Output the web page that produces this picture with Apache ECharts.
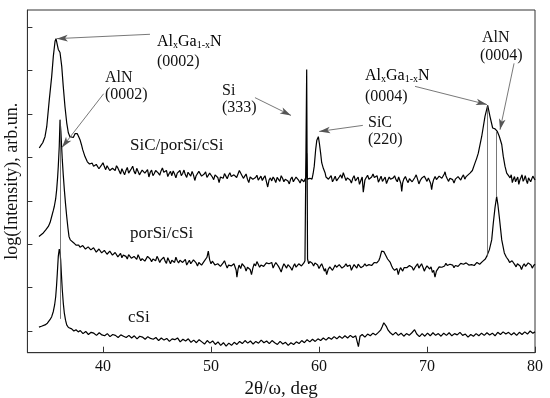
<!DOCTYPE html>
<html><head><meta charset="utf-8">
<script src="https://cdn.jsdelivr.net/npm/echarts@6/dist/echarts.min.js"></script>
<style>html,body{margin:0;padding:0;background:#fff}#c{width:550px;height:398px}</style>
</head><body><div id="c"></div>
<script>
// 2theta (deg), log intensity (arb. units, tick units)
const topCurve = [[34.10,4.22],[34.25,4.28],[34.42,4.34],[34.63,4.48],[34.79,4.71],[35.03,5.34],[35.25,5.87],[35.40,6.33],[35.56,6.68],[35.65,6.74],[35.75,6.62],[35.86,6.49],[35.95,6.46],[36.02,6.42],[36.18,6.10],[36.32,5.64],[36.48,5.17],[36.64,4.80],[36.79,4.57],[36.94,4.48],[37.10,4.44],[37.25,4.46],[37.41,4.55],[37.55,4.52],[37.62,4.55],[37.75,4.48],[37.87,4.41],[38.00,4.30],[38.12,4.18],[38.33,4.02],[38.55,3.90],[38.75,3.85],
[39.00,3.87],[39.125,3.80],[39.25,3.77],[39.375,3.84],[39.50,3.88],[39.625,3.74],[39.75,3.78],[39.875,3.83],[40.00,3.88],[40.125,3.79],[40.25,3.72],[40.375,3.81],[40.50,3.78],[40.625,3.70],[40.75,3.66],[40.875,3.75],[41.00,3.79],[41.125,3.70],[41.25,3.81],[41.375,3.76],[41.50,3.69],[41.625,3.62],[41.75,3.74],[41.875,3.78],[42.00,3.60],[42.125,3.70],[42.25,3.77],[42.375,3.64],[42.50,3.69],[42.625,3.74],[42.75,3.80],[42.875,3.68],[43.00,3.62],[43.125,3.75],[43.25,3.72],[43.375,3.60],[43.50,3.63],[43.625,3.71],[43.75,3.75],[43.875,3.64],[44.00,3.67],[44.125,3.72],[44.25,3.55],[44.375,3.66],[44.50,3.71],[44.625,3.58],[44.75,3.63],[44.875,3.70],[45.00,3.74],[45.125,3.64],[45.25,3.59],[45.375,3.69],[45.50,3.76],[45.625,3.66],[45.75,3.62],[45.875,3.70],[46.00,3.56],[46.125,3.63],[46.25,3.68],[46.375,3.58],[46.50,3.69],[46.625,3.62],[46.75,3.53],[46.875,3.64],[47.00,3.65],[47.125,3.70],[47.25,3.58],[47.375,3.63],[47.50,3.71],[47.625,3.60],[47.75,3.54],[47.875,3.66],[48.00,3.64],[48.125,3.57],[48.25,3.68],[48.375,3.60],[48.50,3.47],[48.625,3.58],[48.75,3.61],[48.875,3.68],[49.00,3.65],[49.125,3.57],[49.25,3.53],[49.375,3.62],[49.50,3.67],[49.625,3.54],[49.75,3.56],[49.875,3.64],[50.00,3.62],[50.125,3.55],[50.25,3.49],[50.375,3.60],[50.50,3.63],[50.625,3.54],[50.75,3.42],[50.875,3.55],[51.00,3.59],[51.125,3.52],[51.25,3.63],[51.375,3.57],[51.50,3.51],[51.625,3.59],[51.75,3.65],[51.875,3.56],[52.00,3.52],[52.125,3.60],[52.25,3.57],[52.375,3.54],[52.50,3.62],[52.625,3.70],[52.75,3.68],[52.875,3.58],[53.00,3.52],[53.125,3.57],[53.25,3.62],[53.375,3.50],[53.50,3.42],[53.625,3.55],[53.75,3.56],[53.875,3.50],[54.00,3.46],[54.125,3.54],[54.25,3.59],[54.375,3.48],[54.50,3.52],[54.625,3.57],[54.75,3.47],[54.875,3.53],[55.00,3.58],[55.125,3.45],[55.25,3.32],[55.375,3.48],[55.50,3.53],[55.625,3.46],[55.75,3.55],[55.875,3.50],[56.00,3.42],[56.125,3.54],[56.25,3.51],[56.375,3.45],[56.50,3.58],[56.625,3.52],[56.75,3.44],[56.875,3.50],[57.00,3.53],[57.125,3.46],[57.25,3.39],[57.375,3.50],[57.50,3.55],[57.625,3.44],[57.75,3.47],[57.875,3.55],[58.00,3.54],[58.125,3.47],[58.25,3.41],[58.375,3.50],[58.50,3.52],[58.60,3.44],[58.70,3.48],[58.80,3.55],[58.86,4.10],[58.92,3.50],
[59.05,3.46],[59.15,3.52],[59.25,3.55],[59.35,3.50],[59.45,3.62],[59.56,3.80],[59.69,4.18],[59.80,4.40],[59.94,4.48],[60.05,4.30],[60.15,4.10],[60.25,3.88],[60.40,3.75],[60.56,3.65],[60.65,3.55],[60.75,3.58],[60.875,3.50],
[61.00,3.52],[61.125,3.58],[61.25,3.44],[61.375,3.50],[61.50,3.57],[61.625,3.46],[61.75,3.49],[61.875,3.55],[62.00,3.60],[62.125,3.52],[62.25,3.65],[62.375,3.56],[62.50,3.47],[62.625,3.53],[62.75,3.55],[62.875,3.48],[63.00,3.41],[63.125,3.52],[63.25,3.58],[63.375,3.46],[63.50,3.50],[63.625,3.55],[63.75,3.38],[63.875,3.47],[64.00,3.55],[64.10,3.20],[64.25,3.48],[64.375,3.54],[64.50,3.59],[64.625,3.50],[64.75,3.46],[64.875,3.55],[65.00,3.62],[65.125,3.54],[65.25,3.51],[65.375,3.58],[65.50,3.43],[65.625,3.50],[65.75,3.57],[65.875,3.45],[66.00,3.49],[66.125,3.55],[66.25,3.40],[66.375,3.48],[66.50,3.55],[66.625,3.50],[66.75,3.47],[66.875,3.53],[67.00,3.58],[67.125,3.49],[67.25,3.44],[67.375,3.55],[67.50,3.52],[67.58,3.40],[67.66,3.22],[67.75,3.42],[67.85,3.50],[68.00,3.56],[68.125,3.48],[68.25,3.42],[68.375,3.51],[68.50,3.53],[68.625,3.44],[68.75,3.46],[68.875,3.54],[69.00,3.60],[69.125,3.50],[69.25,3.39],[69.375,3.47],[69.50,3.52],[69.625,3.48],[69.75,3.57],[69.875,3.51],[70.00,3.45],[70.125,3.53],[70.25,3.54],[70.34,3.40],[70.43,3.26],[70.52,3.40],[70.60,3.48],[70.75,3.56],[70.875,3.49],[71.00,3.50],[71.125,3.57],[71.25,3.61],[71.375,3.52],[71.50,3.55],[71.60,3.62],[71.67,3.67],[71.75,3.58],[71.85,3.52],[72.00,3.45],[72.125,3.52],[72.25,3.56],[72.375,3.49],[72.50,3.41],[72.625,3.50],[72.75,3.50],[72.875,3.56],[73.00,3.53],[73.125,3.48],[73.25,3.55],[73.375,3.60],[73.50,3.50],[73.625,3.56],[73.75,3.58],
[73.98,3.64],[74.20,3.70],[74.44,3.87],[74.60,3.98],[74.75,4.10],[75.07,4.49],[75.37,4.95],[75.62,5.20],[75.83,4.95],[76.08,4.68],[76.30,4.66],[76.51,4.60],[76.69,4.49],[76.92,4.30],[77.06,4.03],[77.22,3.80],[77.38,3.64],[77.55,3.58],[77.69,3.53],[77.80,3.60],[77.90,3.42],[78.00,3.50],[78.10,3.56],[78.20,3.44],[78.30,3.47],[78.40,3.55],[78.50,3.38],[78.60,3.48],[78.70,3.54],[78.80,3.60],[78.90,3.45],[79.00,3.50],[79.10,3.58],[79.20,3.47],[79.30,3.40],[79.40,3.53],[79.50,3.52],[79.60,3.44],[79.70,3.46],[79.80,3.57],[79.90,3.55],[80.00,3.48]];

const midCurve = [[34.07,2.18],[34.25,2.22],[34.47,2.26],[34.70,2.33],[34.94,2.41],[35.10,2.50],[35.25,2.64],[35.40,2.78],[35.49,2.87],[35.62,3.05],[35.71,3.26],[35.80,3.55],[35.86,3.80],[35.95,4.26],[36.02,4.87],[36.10,4.60],[36.23,3.95],[36.32,3.60],[36.42,3.26],[36.53,2.93],[36.64,2.64],[36.75,2.38],[36.85,2.18],[36.97,2.10],[37.10,2.06],[37.30,2.03],[37.50,1.98],[37.62,2.01],
[37.75,1.98],[37.875,1.93],[38.00,1.90],[38.125,1.97],[38.25,1.96],[38.375,1.89],[38.50,1.86],[38.625,1.94],[38.75,1.93],[38.875,1.87],[39.00,1.84],[39.125,1.92],[39.25,1.90],[39.375,1.82],[39.50,1.81],[39.625,1.89],[39.75,1.88],[39.875,1.80],[40.00,1.78],[40.125,1.86],[40.25,1.85],[40.375,1.77],[40.50,1.76],[40.625,1.84],[40.75,1.83],[40.875,1.75],[41.00,1.72],[41.125,1.81],[41.25,1.80],[41.375,1.71],[41.50,1.74],[41.625,1.79],[41.75,1.69],[41.875,1.75],[42.00,1.79],[42.125,1.72],[42.25,1.66],[42.375,1.76],[42.50,1.73],[42.625,1.68],[42.75,1.64],[42.875,1.72],[43.00,1.71],[43.125,1.65],[43.25,1.76],[43.375,1.69],[43.50,1.62],[43.625,1.67],[43.75,1.70],[43.875,1.61],[44.00,1.65],[44.125,1.72],[44.25,1.74],[44.375,1.66],[44.50,1.60],[44.625,1.66],[44.75,1.68],[44.875,1.62],[45.00,1.72],[45.125,1.66],[45.25,1.58],[45.375,1.64],[45.50,1.66],[45.625,1.70],[45.75,1.61],[45.875,1.56],[46.00,1.69],[46.125,1.62],[46.25,1.55],[46.375,1.63],[46.50,1.64],[46.625,1.58],[46.75,1.70],[46.875,1.62],[47.00,1.57],[47.125,1.63],[47.25,1.66],[47.375,1.58],[47.50,1.60],[47.625,1.65],[47.75,1.52],[47.875,1.58],[48.00,1.63],[48.125,1.55],[48.25,1.57],[48.375,1.64],[48.50,1.65],[48.625,1.57],[48.75,1.50],[48.875,1.58],[49.00,1.59],[49.125,1.52],[49.25,1.54],[49.375,1.61],[49.50,1.62],[49.625,1.70],[49.75,1.84],[49.875,1.64],[50.00,1.55],[50.125,1.61],[50.25,1.60],[50.375,1.52],[50.50,1.48],[50.625,1.55],[50.75,1.58],[50.875,1.49],[51.00,1.50],[51.125,1.57],[51.25,1.62],[51.375,1.53],[51.50,1.45],[51.625,1.52],[51.75,1.56],[51.875,1.50],[52.00,1.49],[52.125,1.55],[52.25,1.58],[52.33,1.40],[52.40,1.24],[52.50,1.42],[52.60,1.52],[52.75,1.44],[52.875,1.55],[53.00,1.57],[53.125,1.48],[53.25,1.38],[53.375,1.47],[53.50,1.51],[53.625,1.42],[53.75,1.30],[53.875,1.45],[54.00,1.55],[54.125,1.50],[54.25,1.60],[54.375,1.54],[54.50,1.47],[54.625,1.52],[54.75,1.56],[54.875,1.49],[55.00,1.50],[55.125,1.57],[55.25,1.61],[55.375,1.55],[55.50,1.53],[55.625,1.58],[55.75,1.45],[55.875,1.52],[56.00,1.58],[56.125,1.54],[56.25,1.49],[56.375,1.43],[56.50,1.36],[56.625,1.47],[56.75,1.55],[56.875,1.50],[57.00,1.45],[57.125,1.53],[57.25,1.52],[57.375,1.46],[57.50,1.40],[57.625,1.49],[57.75,1.55],[57.875,1.47],[58.00,1.48],[58.125,1.55],[58.25,1.58],[58.375,1.50],[58.50,1.52],[58.60,1.57],[58.70,1.62],
[58.78,1.60],[58.86,6.03],[58.94,1.66],
[59.05,1.55],[59.15,1.60],[59.25,1.64],[59.375,1.56],[59.50,1.50],[59.625,1.57],[59.75,1.60],[59.875,1.52],[60.00,1.44],[60.125,1.50],[60.25,1.55],[60.375,1.47],[60.50,1.38],[60.60,1.44],[60.71,1.30],[60.85,1.42],[61.00,1.48],[61.125,1.52],[61.25,1.40],[61.375,1.46],[61.50,1.52],[61.625,1.47],[61.75,1.44],[61.875,1.53],[62.00,1.50],[62.125,1.45],[62.25,1.42],[62.375,1.50],[62.50,1.55],[62.625,1.49],[62.75,1.46],[62.875,1.52],[63.00,1.40],[63.125,1.47],[63.25,1.53],[63.375,1.49],[63.50,1.45],[63.625,1.54],[63.75,1.52],[63.875,1.46],[64.00,1.42],[64.125,1.50],[64.25,1.55],[64.375,1.50],[64.50,1.48],[64.625,1.53],[64.75,1.57],[64.875,1.51],[65.00,1.52],[65.125,1.58],[65.25,1.62],[65.35,1.57],[65.45,1.55],[65.55,1.63],[65.65,1.70],[65.80,1.84],[65.90,1.87],[66.00,1.83],[66.05,1.80],[66.15,1.76],[66.27,1.72],[66.35,1.66],[66.45,1.62],[66.60,1.58],[66.73,1.50],[66.82,1.45],[66.90,1.42],[67.00,1.40],[67.10,1.36],[67.22,1.44],[67.34,1.30],[67.45,1.40],[67.55,1.46],[67.65,1.42],[67.75,1.38],[67.875,1.46],[68.00,1.50],[68.125,1.46],[68.25,1.44],[68.375,1.51],[68.50,1.54],[68.625,1.47],[68.75,1.40],[68.875,1.46],[69.00,1.50],[69.125,1.55],[69.25,1.45],[69.375,1.50],[69.50,1.55],[69.625,1.47],[69.75,1.38],[69.875,1.45],[70.00,1.50],[70.125,1.47],[70.25,1.43],[70.375,1.48],[70.50,1.35],[70.62,1.40],[70.74,1.24],[70.87,1.38],[71.00,1.42],[71.125,1.48],[71.25,1.52],[71.375,1.47],[71.50,1.45],[71.625,1.50],[71.75,1.56],[71.875,1.51],[72.00,1.48],[72.125,1.54],[72.25,1.58],[72.375,1.52],[72.50,1.46],[72.625,1.51],[72.75,1.55],[72.875,1.49],[73.00,1.50],[73.125,1.56],[73.25,1.60],[73.375,1.54],[73.50,1.52],[73.625,1.57],[73.75,1.58],[73.875,1.52],[74.00,1.48],[74.125,1.53],[74.25,1.57],[74.375,1.51],[74.50,1.53],[74.625,1.58],[74.75,1.60],[74.875,1.54],[75.00,1.55],[75.125,1.60],[75.25,1.62],[75.40,1.66],
[75.53,1.72],[75.77,1.87],[75.99,2.10],[76.14,2.49],[76.30,2.85],[76.45,3.10],[76.57,2.90],[76.69,2.64],[76.92,2.10],[77.16,1.80],[77.35,1.70],[77.53,1.64],[77.65,1.58],[77.75,1.55],[77.875,1.62],[78.00,1.60],[78.125,1.53],[78.25,1.48],[78.375,1.55],[78.50,1.58],[78.625,1.50],[78.75,1.42],[78.875,1.50],[79.00,1.55],[79.125,1.49],[79.25,1.50],[79.375,1.57],[79.50,1.60],[79.625,1.52],[79.75,1.45],[79.875,1.51],[80.00,1.54]];

const botCurve = [[34.07,0.09],[34.30,0.11],[34.63,0.14],[34.85,0.18],[35.09,0.26],[35.25,0.33],[35.40,0.45],[35.52,0.60],[35.62,0.79],[35.70,1.05],[35.77,1.33],[35.86,1.72],[35.95,1.89],[36.02,1.80],[36.08,1.64],[36.15,1.30],[36.23,0.95],[36.32,0.65],[36.42,0.41],[36.53,0.25],[36.64,0.14],[36.80,0.08],[36.94,0.04],[37.10,0.05],[37.30,0.00],[37.50,0.03],[37.71,-0.02],
[37.90,0.01],[38.15,-0.06],[38.40,-0.01],[38.65,-0.08],[38.90,-0.03],[39.15,-0.05],[39.40,-0.10],[39.65,-0.04],[39.90,-0.09],[40.15,-0.11],[40.40,-0.06],[40.65,-0.13],[40.90,-0.08],[41.15,-0.10],[41.40,-0.15],[41.65,-0.09],[41.90,-0.12],[42.15,-0.15],[42.40,-0.10],[42.65,-0.16],[42.90,-0.11],[43.15,-0.18],[43.40,-0.12],[43.65,-0.14],[43.90,-0.19],[44.15,-0.13],[44.40,-0.17],[44.65,-0.19],[44.90,-0.15],[45.15,-0.22],[45.40,-0.16],[45.65,-0.21],[45.90,-0.17],[46.15,-0.24],[46.40,-0.18],[46.65,-0.20],[46.90,-0.16],[47.15,-0.25],[47.40,-0.19],[47.65,-0.23],[47.90,-0.18],[48.15,-0.26],[48.40,-0.21],[48.65,-0.27],[48.90,-0.20],[49.15,-0.25],[49.40,-0.30],[49.65,-0.22],[49.90,-0.28],[50.15,-0.23],[50.40,-0.31],[50.65,-0.25],[50.90,-0.33],[51.15,-0.27],[51.40,-0.35],[51.65,-0.28],[51.90,-0.33],[52.15,-0.26],[52.40,-0.31],[52.65,-0.24],[52.90,-0.29],[53.15,-0.22],[53.40,-0.28],[53.65,-0.23],[53.90,-0.30],[54.15,-0.24],[54.40,-0.28],[54.65,-0.21],[54.90,-0.27],[55.15,-0.23],[55.40,-0.29],[55.65,-0.22],[55.90,-0.27],[56.15,-0.31],[56.40,-0.24],[56.65,-0.30],[56.90,-0.26],[57.15,-0.33],[57.40,-0.27],[57.65,-0.31],[57.90,-0.25],[58.15,-0.29],[58.40,-0.22],[58.65,-0.27],[58.90,-0.20],[59.15,-0.25],[59.40,-0.19],[59.65,-0.24],[59.90,-0.18],[60.15,-0.22],[60.40,-0.16],[60.65,-0.21],[60.90,-0.15],[61.15,-0.19],[61.40,-0.13],[61.65,-0.18],[61.90,-0.12],[62.15,-0.17],[62.40,-0.11],[62.65,-0.16],[62.90,-0.10],[63.15,-0.15],[63.40,-0.11],[63.65,-0.36],[63.80,-0.12],[64.00,-0.08],[64.25,-0.14],[64.50,-0.07],[64.75,-0.11],[65.00,-0.05],[65.25,-0.09],[65.50,-0.03],[65.70,0.02],[65.85,0.10],[66.00,0.19],[66.10,0.20],[66.25,0.10],[66.40,0.02],[66.60,-0.04],[66.85,-0.09],[67.10,-0.03],[67.35,-0.10],[67.60,-0.05],[67.85,-0.12],[68.10,-0.06],[68.35,-0.10],[68.60,-0.04],[68.85,0.03],[69.05,-0.07],[69.30,-0.13],[69.55,-0.06],[69.80,-0.12],[70.05,-0.05],[70.30,-0.11],[70.55,-0.04],[70.80,-0.10],[71.05,-0.06],[71.30,-0.12],[71.55,-0.05],[71.80,-0.10],[72.05,-0.04],[72.30,-0.11],[72.55,-0.06],[72.80,-0.09],[73.05,-0.03],[73.30,-0.10],[73.55,-0.07],[73.80,-0.14],[74.05,-0.08],[74.30,-0.12],[74.55,-0.06],[74.80,-0.11],[75.05,-0.05],[75.30,-0.10],[75.55,-0.04],[75.80,-0.09],[76.05,-0.05],[76.30,-0.11],[76.55,-0.03],[76.80,-0.08],[77.05,-0.02],[77.30,-0.07],[77.55,-0.03],[77.80,-0.09],[78.05,-0.04],[78.30,-0.10],[78.55,-0.03],[78.80,-0.08],[79.05,-0.02],[79.30,-0.07],[79.55,0.00],[79.80,-0.05],[80.00,-0.02]];

// vertical guide lines: [x, yTop, yBottom]
const dropLines = [[36.05,4.87,0.28],[75.55,5.18,1.72],[76.39,4.60,3.10]];
// annotation arrows: [fromX, fromY, toX, toY]
const arrows = [[44.35,6.84,35.72,6.74],[40.06,5.47,36.20,4.23],[54.07,5.38,57.41,4.97],[64.06,4.74,60.02,4.60],[68.89,5.64,75.55,5.22],[78.06,6.17,76.76,4.64]];
const xTicks = [40,50,60,70,80];
const yTicks = [0,1,2,3,4,5,6,7];

const FONT = "'Liberation Serif','Times New Roman',serif";
const chart = echarts.init(document.getElementById('c'), null, {renderer:'canvas'});

function txt(x, y, text, size){
  return {type:'text', silent:true, style:{x:x, y:y, text:text, fill:'#111', font:(size||16)+'px '+FONT, verticalAlign:'middle', align:'left'}};
}
function subTxt(x, y, parts){
  return {type:'text', silent:true, style:{x:x, y:y, text:parts, verticalAlign:'middle', align:'left',
    rich:{a:{fontSize:16, fontFamily:FONT, color:'#111', verticalAlign:'bottom', lineHeight:18},
          b:{fontSize:10, fontFamily:FONT, color:'#111', verticalAlign:'bottom', lineHeight:9}}}};
}
const alGaN = '{a|Al}{b|x}{a|Ga}{b|1-x}{a|N}';

const lineSeries = (name, data) => ({name, type:'line', data, showSymbol:false, symbol:'none', animation:false, silent:true,
  lineStyle:{color:'#000', width:1.2}, z:3});

const option = {
  animation:false,
  grid:{left:27.4, right:15, top:10, bottom:45.3, show:true, borderColor:'#333', borderWidth:1, containLabel:false, outerBoundsMode:'none'},
  xAxis:{type:'value', min:33, max:80,
    name:'2θ/ω, deg', nameLocation:'middle', nameGap:18,
    nameTextStyle:{fontFamily:FONT, fontSize:19, color:'#111'},
    axisLine:{onZero:false, lineStyle:{color:'#333', width:1}},
    axisTick:{inside:true, length:6, lineStyle:{color:'#333'}, customValues:xTicks},
    axisLabel:{fontFamily:FONT, fontSize:16, color:'#111', margin:6, customValues:xTicks},
    splitLine:{show:false}},
  yAxis:{type:'value', min:-0.5, max:7.4,
    name:'log(Intensity), arb.un.', nameLocation:'middle', nameGap:6, nameRotate:90,
    nameTextStyle:{fontFamily:FONT, fontSize:18, color:'#111'},
    axisLine:{show:true, onZero:false, lineStyle:{color:'#333', width:1}},
    axisTick:{show:true, inside:true, length:5, lineStyle:{color:'#333'}, customValues:yTicks},
    axisLabel:{show:false, customValues:yTicks},
    splitLine:{show:false}},
  series:[
    lineSeries('SiC/porSi/cSi', topCurve),
    lineSeries('porSi/cSi', midCurve),
    lineSeries('cSi', botCurve),
    {type:'line', data:[], silent:true, animation:false,
      markLine:{silent:true, animation:false, symbol:['none','none'], label:{show:false},
        lineStyle:{color:'#555', width:0.8, type:'solid'},
        data: dropLines.map(d => [{coord:[d[0], d[1]]},{coord:[d[0], d[2]]}])}},
    {type:'line', data:[], silent:true, animation:false,
      markLine:{silent:true, animation:false, symbol:['none','arrow'], symbolSize:[5,11], label:{show:false},
        lineStyle:{color:'#555', width:0.8, type:'solid'},
        data: arrows.map(a => [{coord:[a[0], a[1]]},{coord:[a[2], a[3]]}])}}
  ],
  graphic:[
    subTxt(157, 41, alGaN), txt(157, 62, '(0002)'),
    txt(105, 77.5, 'AlN'), txt(105, 95, '(0002)'),
    txt(222, 91, 'Si'), txt(222, 107.5, '(333)'),
    txt(368, 122.5, 'SiC'), txt(368, 139.5, '(220)'),
    subTxt(365, 75, alGaN), txt(365, 96.5, '(0004)'),
    txt(482, 37.5, 'AlN'), txt(480, 55.5, '(0004)'),
    txt(130, 146, 'SiC/porSi/cSi', 17), txt(130, 234, 'porSi/cSi', 17), txt(128, 317.5, 'cSi', 17)
  ]
};
chart.setOption(option);
</script></body></html>
